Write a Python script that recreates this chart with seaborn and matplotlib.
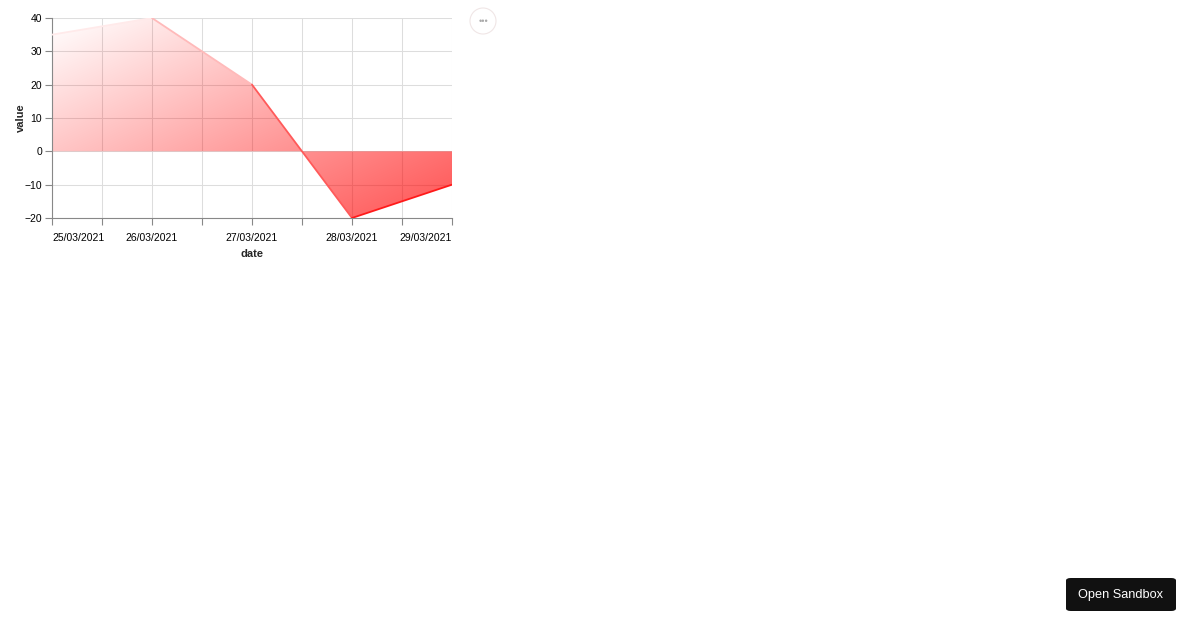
import numpy as np
import pandas as pd
import matplotlib
matplotlib.use("Agg")
import matplotlib.pyplot as plt
import matplotlib.dates as mdates
from matplotlib.colors import LinearSegmentedColormap
from matplotlib.patches import FancyBboxPatch, Circle
import seaborn as sns

# ---- data ----
dates = ["2021-03-25", "2021-03-26", "2021-03-27", "2021-03-28", "2021-03-29"]
values = [35, 40, 20, -20, -10]
y_ticks = [-20, -10, 0, 10, 20, 30, 40]
x_tick_labels = ["25/03/2021", "26/03/2021", "27/03/2021", "28/03/2021", "29/03/2021"]

df = pd.DataFrame({"date": pd.to_datetime(dates), "value": values})

sns.set_theme(style="white")
plt.rcParams["font.family"] = ["Liberation Sans", "DejaVu Sans"]

W, H = 1200, 630
fig = plt.figure(figsize=(W / 100, H / 100), dpi=100)
ax = fig.add_axes([52 / W, (H - 218) / H, 400 / W, 200 / H])

cmap = LinearSegmentedColormap.from_list("wr", ["#ffffff", "#ff0000"])

xnum = mdates.date2num(df["date"])
x0, x1 = xnum.min(), xnum.max()
ymin, ymax = min(y_ticks), max(y_ticks)

# gradient fill (top-left -> bottom-right), clipped to the area
gw, gh = 400, 200
u = np.linspace(0, 1, gw)[None, :]
v = np.linspace(0, 1, gh)[:, None]
t = (u + v) / 2
rgba = np.zeros((gh, gw, 4))
rgba[..., 0] = 1.0
rgba[..., 3] = 0.68 * t
poly = ax.fill_between(df["date"], df["value"], 0, color="none", lw=0)
img = ax.imshow(rgba, extent=[x0, x1, ymin, ymax], origin="upper",
                aspect="auto", zorder=1, interpolation="bilinear")
img.set_clip_path(poly.get_paths()[0], transform=ax.transData)

# gradient line drawn segment by segment with seaborn
for i in range(len(df) - 1):
    seg = df.iloc[i:i + 2]
    xm = ((mdates.date2num(seg["date"]).mean()) - x0) / (x1 - x0)
    ym = (ymax - seg["value"].mean()) / (ymax - ymin)
    tc = (xm + ym) / 2
    sns.lineplot(data=seg, x="date", y="value", color=cmap(tc), lw=1.3,
                 ax=ax, zorder=3, solid_capstyle="round")

ax.set_xlim(x0, x1)
ax.set_ylim(ymin, ymax)

# axes styling
ax.set_yticks(y_ticks)
ticks = mdates.drange(df["date"].min().to_pydatetime(),
                      df["date"].max().to_pydatetime() + pd.Timedelta(hours=1),
                      pd.Timedelta(hours=12))
ax.set_xticks(ticks)
labels = [x_tick_labels[k // 2] if k % 2 == 0 else "" for k in range(len(ticks))]
ax.set_xticklabels(labels)

ax.grid(True, color="#dddddd", lw=0.75)
ax.set_axisbelow(True)
for s in ["top", "right"]:
    ax.spines[s].set_visible(False)
for s in ["left", "bottom"]:
    ax.spines[s].set_color("#888888")
    ax.spines[s].set_linewidth(0.8)
ax.tick_params(axis="both", which="both", length=5, width=0.8, color="#888888",
               labelsize=7.5, labelcolor="#000000", pad=2, bottom=True, left=True)
ax.tick_params(axis="x", pad=6)
xl = ax.get_xticklabels()
xl[0].set_horizontalalignment("left")
xl[-1].set_horizontalalignment("right")

ax.set_xlabel("date", fontsize=8, fontweight="bold", labelpad=4)
ax.set_ylabel("value", fontsize=8, fontweight="bold", labelpad=-1)

# page UI elements
fig.patches.append(Circle((483 / 100, (H - 21) / 100), 0.13,
                          transform=fig.dpi_scale_trans,
                          facecolor="white", edgecolor="#f0e6e6", lw=0.8))
fig.text(483 / W, 1 - 21.5 / H, "•••", ha="center", va="center", fontsize=6.5,
         color="#aaaaaa")
fig.patches.append(FancyBboxPatch((1066 / W, 1 - 611 / H), 110 / W, 33 / H,
                                  boxstyle="round,pad=0,rounding_size=0.004",
                                  transform=fig.transFigure, facecolor="#111111",
                                  edgecolor="none"))
fig.text(1121 / W, 1 - 595 / H, "Open Sandbox", ha="center", va="center",
         fontsize=9.2, color="white")

fig.savefig("out.png", dpi=100)
